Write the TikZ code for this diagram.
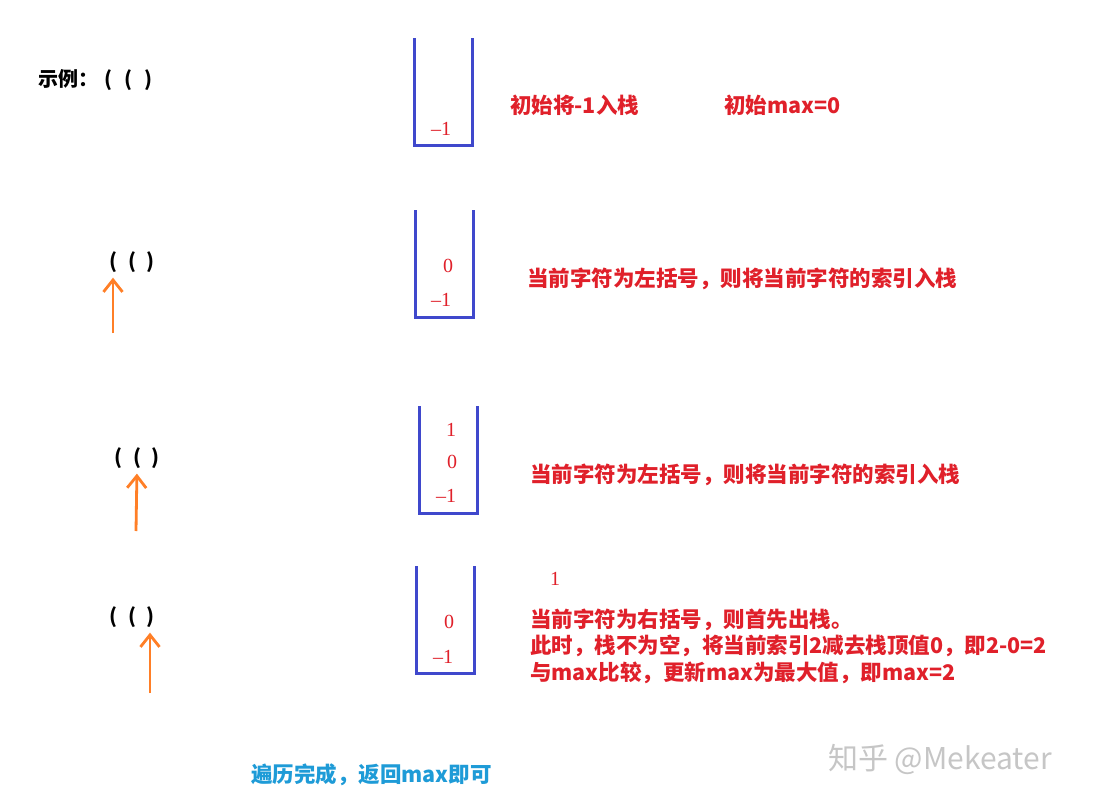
\documentclass[tikz,border=0pt]{standalone}
\usepackage{fontspec}
\newfontfamily\cjk{Noto Sans CJK SC}
\newfontfamily\chiffre{Liberation Serif}
\usetikzlibrary{arrows.meta}
\definecolor{pilebleu}{HTML}{3F48CC}
\definecolor{rouge}{HTML}{E0202A}
\definecolor{orange}{HTML}{FF7F27}
\definecolor{finbleu}{HTML}{1E9BD7}

\begin{document}
\begin{tikzpicture}[x=1pt,y=-1pt]
\tikzset{pile/.style={draw=pilebleu, line width=3pt},
  valeur/.style={text=rouge, inner sep=0pt, font=\chiffre\fontsize{20}{20}\selectfont},
  explic/.style={text=rouge, anchor=west, inner sep=0pt, align=left, font=\cjk\bfseries\fontsize{21.5}{26.5}\selectfont},
  paren/.style={inner sep=0pt, font=\cjk\bfseries\fontsize{20}{20}\selectfont},
  fleche/.style={draw=orange, line width=2.8pt, shorten >=5pt, -{Straight Barb[length=12pt, width=19pt]}}}
\useasboundingbox[fill=white] (0,0) rectangle (1109,806);
\node[paren, anchor=west] (titre) at (38,80) {示例：\hspace{6pt}(\hspace{12pt}(\hspace{12pt})};
\draw[pile] (414,38) |- (472,145) -- (472,38);
\node[valeur] (a1) at (441,129) {–1};
\node[explic] (t1) at (510,105) {初始将-1入栈};
\node[explic] (t1b) at (724,105) {初始max=0};
\node[paren] (p21) at (113,262) {(};
\node[paren] (p22) at (132,262) {(};
\node[paren] (p23) at (150,262) {)};
\coordinate (q2) at (113,333);
\draw[fleche] (q2) -- (p21.south);
\draw[pile] (415,210) |- (473,317) -- (473,210);
\node[valeur] (b0) at (448,266) {0};
\node[valeur] (b1) at (441,300) {–1};
\node[explic] (t2) at (527,279) {当前字符为左括号，则将当前字符的索引入栈};
\node[paren] (p31) at (118,458) {(};
\node[paren] (p32) at (137,458) {(};
\node[paren] (p33) at (155,458) {)};
\coordinate (q3) at (136,531);
\draw[fleche] (q3) -- (p32.south);
\draw[pile] (419,406) |- (477,513) -- (477,406);
\node[valeur] (c2) at (451,430) {1};
\node[valeur] (c0) at (452,462) {0};
\node[valeur] (c1) at (446,496) {–1};
\node[explic] (t3) at (530,475) {当前字符为左括号，则将当前字符的索引入栈};
\node[paren] (p41) at (113,617) {(};
\node[paren] (p42) at (132,617) {(};
\node[paren] (p43) at (150,617) {)};
\coordinate (q4) at (150,693);
\draw[fleche] (q4) -- (p43.south);
\draw[pile] (416,566) |- (474,673) -- (474,566);
\node[valeur] (d0) at (449,622) {0};
\node[valeur] (d1) at (443,657) {–1};
\node[valeur] (d2) at (555,579) {1};
\node[explic] (t4) at (530,646) {当前字符为右括号，则首先出栈。\\此时，栈不为空，将当前索引2减去栈顶值0，即2-0=2\\与max比较，更新max为最大值，即max=2};
\node[explic, text=finbleu] (fin) at (251,775) {遍历完成，返回max即可};
\node[anchor=west, inner sep=0pt, text=gray!45, font=\cjk\fontsize{30}{30}\selectfont] (marque) at (828,759) {知乎 @Mekeater};
\end{tikzpicture}
\end{document}
